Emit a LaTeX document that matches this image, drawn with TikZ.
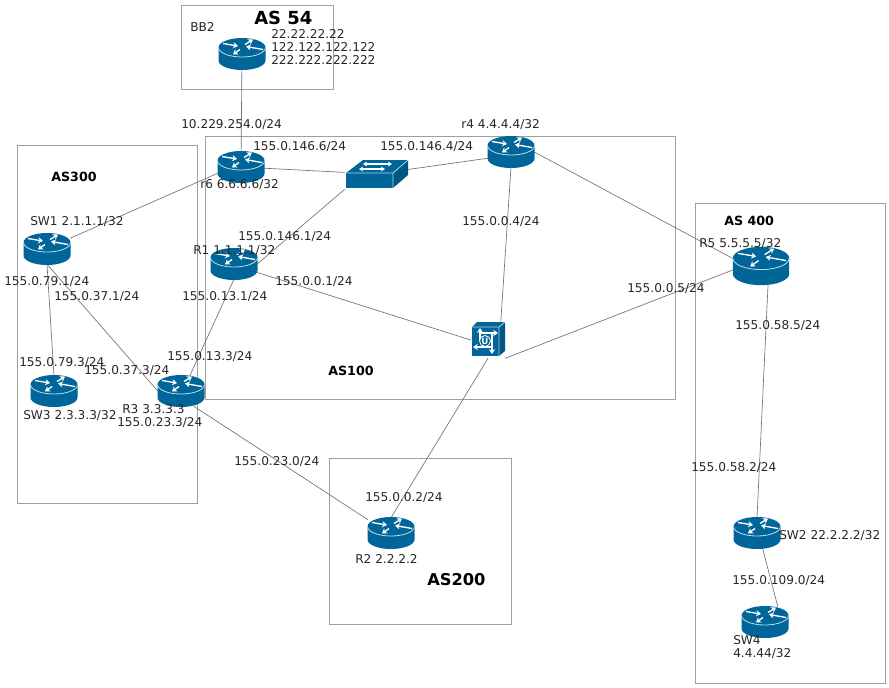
\documentclass[tikz,border=0pt]{standalone}
\usepackage{fontspec}
\setmainfont{DejaVu Sans}
\usetikzlibrary{arrows.meta}
\definecolor{ciscoblue}{RGB}{0,102,153}
\tikzset{
  asbox/.style={draw=gray!75, line width=0.7pt},
  link/.style={draw=black!55, line width=0.5pt},
  routernode/.style={minimum width=34.5pt, minimum height=22.5pt, inner sep=0pt},
  bigrouternode/.style={minimum width=42pt, minimum height=28.5pt, inner sep=0pt},
  addr/.style={anchor=west, inner sep=0pt, font=\fontsize{9.1}{9.4}\selectfont, text=black!85},
  astitle/.style={anchor=west, inner sep=0pt, font=\bfseries\fontsize{9.5}{11}\selectfont},
  astitlebig/.style={anchor=west, inner sep=0pt, font=\bfseries\fontsize{13.5}{15}\selectfont},
  whitearrow/.style={white, line width=1pt, -{Stealth[length=3.6pt, width=4.6pt]}},
  thinarrow/.style={white, line width=0.8pt, {Stealth[length=3pt, width=3.6pt]}-{Stealth[length=3pt, width=3.6pt]}},
  routerpic/.pic={
    \fill[ciscoblue] (-23.5,-6.5) -- (-23.5,6.5) arc[start angle=180, end angle=0, x radius=23.5, y radius=9.5]
      -- (23.5,-6.5) arc[start angle=0, end angle=-180, x radius=23.5, y radius=9.5] -- cycle;
    \draw[white!75!ciscoblue, line width=0.6pt] (-23.5,-6.5) arc[start angle=180, end angle=0, x radius=23.5, y radius=9.5];
    \draw[whitearrow] (-19,-10.5) -- (-4,-8);
    \draw[whitearrow] (21,-4.5) -- (4,-7.5);
    \draw[whitearrow] (3,-9.5) -- (11,-14.5);
    \draw[whitearrow] (-2,-4.5) -- (-9,0.5);
  },
  switchpic/.pic={
    \fill[ciscoblue] (-30,-1) -- (-13,-14) -- (32,-14) -- (17,-1) -- cycle;
    \fill[ciscoblue] (-30,-1) rectangle (17,14);
    \fill[ciscoblue!85!black] (17,-1) -- (32,-14) -- (32,1) -- (17,14) -- cycle;
    \draw[white!70!ciscoblue, line width=0.6pt] (-30,-1) -- (17,-1) -- (32,-14) (17,-1) -- (17,14);
    \draw[thinarrow] (-13,-10) -- (16,-10);
    \draw[thinarrow] (-17,-5) -- (9,-5);
  },
  unitpic/.pic={
    \fill[ciscoblue] (-16,-13) rectangle (11,16);
    \fill[ciscoblue] (-16,-13) -- (-11,-18) -- (17,-18) -- (11,-13) -- cycle;
    \fill[ciscoblue!85!black] (11,-13) -- (17,-18) -- (17,11) -- (11,16) -- cycle;
    \draw[white!70!ciscoblue, line width=0.6pt] (-16,-13) -- (11,-13) -- (17,-18) (11,-13) -- (11,16);
    \draw[whitearrow] (-8,0) -- (-8,-12);
    \draw[whitearrow] (-8,-7) -- (10,-7);
    \draw[whitearrow] (4,-7) -- (4,14);
    \draw[whitearrow] (4,7) -- (-15,7);
    \fill[ciscoblue] (-3,1) circle (5.5);
    \draw[white, line width=0.6pt] (-3,1) circle (5.5);
  },
}
\begin{document}
\begin{tikzpicture}[x=0.75pt, y=-0.75pt]
\useasboundingbox (0,0) rectangle (889,687);
% AS boxes
    \draw[asbox] (181,5) rectangle (333,89);
    \draw[asbox] (205,136) rectangle (675,399);
    \draw[asbox] (17,145) rectangle (197,503);
    \draw[asbox] (329,458) rectangle (511,624);
    \draw[asbox] (695,203) rectangle (885,683);
% Device nodes
    \node[routernode] (bb2) at (242,54) {};
    \node[routernode] (r6) at (241,167) {};
    \node[routernode] (r4) at (511,152) {};
    \node[routernode] (sw1) at (47,249) {};
    \node[routernode] (r1) at (234,264) {};
    \node[routernode] (r3) at (181,391) {};
    \node[routernode] (sw3) at (54,391) {};
    \node[routernode] (r2) at (391,533) {};
    \node[routernode] (sw2) at (757,533) {};
    \node[routernode] (sw4) at (765,622) {};
    \node[bigrouternode] (r5) at (761,266) {};
    \node[minimum width=46.5pt, minimum height=22.5pt, inner sep=0pt] (sw) at (376,174) {};
    \node[minimum width=25.5pt, minimum height=27pt, inner sep=0pt] (uturn) at (488,340) {};
% Links
    \draw[link] (bb2) -- (r6);
    \draw[link] (r6.195) -- (sw1.25);
    \draw[link] (r6) -- (sw);
    \draw[link] (sw) -- (r4.195);
    \draw[link] (sw.south west) -- (r1.east);
    \draw[link] (r4.east) -- (r5.165);
    \draw[link] (r4.south) -- (uturn.55);
    \draw[link] (r1.-20) -- (uturn.west);
    \draw[link] (uturn.south east) -- (r5.188);
    \draw[link] (uturn.south) -- (r2.north);
    \draw[link] (r1.south) -- (r3.60);
    \draw[link] (sw1.south) -- (sw3.north);
    \draw[link] (sw1.south) -- (r3.west);
    \draw[link] (r3.-50) -- (r2.150);
    \draw[link] (r5.-70) -- (sw2.north);
    \draw[link] (sw2.-70) -- (sw4.50);
% Icons
    \pic at (bb2) {routerpic};
    \pic at (r6) {routerpic};
    \pic at (r4) {routerpic};
    \pic at (sw1) {routerpic};
    \pic at (r1) {routerpic};
    \pic at (r3) {routerpic};
    \pic at (sw3) {routerpic};
    \pic at (r2) {routerpic};
    \pic at (sw2) {routerpic};
    \pic at (sw4) {routerpic};
    \pic[scale=1.2] at (r5) {routerpic};
    \pic at (sw) {switchpic};
    \pic at (uturn) {unitpic};
    \node[inner sep=0pt, white, font=\bfseries\fontsize{6.5}{6.5}\selectfont] (ulabel) at (485,341) {U};
% AS titles
    \node[astitlebig] (as54) at (254,18) {AS 54};
    \node[astitle] (as300) at (51,177) {AS300};
    \node[astitle] (as100) at (328,371) {AS100};
    \node[astitle] (as400) at (724,221) {AS 400};
    \node[astitlebig, font=\bfseries\fontsize{12.2}{14}\selectfont] (as200) at (427,580) {AS200};
% Addresses
    \node[addr] (bb2name) at (190,27) {BB2};
    \node[addr, align=left] (bb2addr) at (271,47) {22.22.22.22\\122.122.122.122\\222.222.222.222};
    \node[addr] (a1) at (181,125) {10.229.254.0/24};
    \node[addr] (a2) at (253,147) {155.0.146.6/24};
    \node[addr] (a3) at (380,147) {155.0.146.4/24};
    \node[addr] (a4) at (461,125) {r4 4.4.4.4/32};
    \node[addr] (a5) at (200,185) {r6 6.6.6.6/32};
    \node[addr] (a6) at (30,222) {SW1 2.1.1.1/32};
    \node[addr] (a7) at (238,237) {155.0.146.1/24};
    \node[addr] (a8) at (193,251) {R1 1.1.1.1/32};
    \node[addr] (a9) at (462,222) {155.0.0.4/24};
    \node[addr] (a10) at (4,282) {155.0.79.1/24};
    \node[addr] (a11) at (54,297) {155.0.37.1/24};
    \node[addr] (a12) at (275,282) {155.0.0.1/24};
    \node[addr] (a13) at (182,297) {155.0.13.1/24};
    \node[addr] (a14) at (627,289) {155.0.0.5/24};
    \node[addr] (a15) at (699,244) {R5 5.5.5.5/32};
    \node[addr] (a16) at (735,326) {155.0.58.5/24};
    \node[addr] (a17) at (167,357) {155.0.13.3/24};
    \node[addr] (a18) at (19,363) {155.0.79.3/24};
    \node[addr] (a19) at (84,371) {155.0.37.3/24};
    \node[addr] (a20) at (122,409) {R3 3.3.3.3};
    \node[addr] (a21) at (23,416) {SW3 2.3.3.3/32};
    \node[addr] (a22) at (117,423) {155.0.23.3/24};
    \node[addr] (a23) at (234,462) {155.0.23.0/24};
    \node[addr] (a24) at (691,468) {155.0.58.2/24};
    \node[addr] (a25) at (365,498) {155.0.0.2/24};
    \node[addr] (a26) at (355,559) {R2 2.2.2.2};
    \node[addr] (a27) at (779,536) {SW2 22.2.2.2/32};
    \node[addr] (a28) at (732,581) {155.0.109.0/24};
    \node[addr, align=left] (a29) at (733,647) {SW4\\4.4.44/32};
\end{tikzpicture}
\end{document}
